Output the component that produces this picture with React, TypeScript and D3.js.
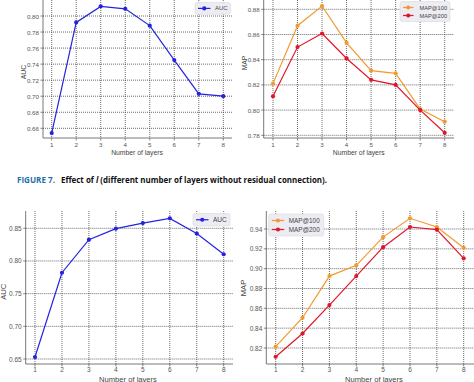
import React from "react";
import * as d3 from "d3";

const layers = [1, 2, 3, 4, 5, 6, 7, 8];

// Top row: without residual connection
const aucNoRes = [0.654, 0.792, 0.812, 0.809, 0.788, 0.745, 0.703, 0.7];
const map100NoRes = [0.821, 0.867, 0.8826, 0.8533, 0.8313, 0.8292, 0.8008, 0.7908];
const map200NoRes = [0.811, 0.85, 0.8608, 0.841, 0.824, 0.82, 0.8, 0.782];

// Bottom row: with residual connection
const aucRes = [0.653, 0.782, 0.8326, 0.8494, 0.858, 0.8652, 0.842, 0.8103];
const map100Res = [0.8213, 0.8505, 0.8925, 0.9034, 0.9318, 0.9508, 0.942, 0.921];
const map200Res = [0.8112, 0.8346, 0.8633, 0.8925, 0.9217, 0.942, 0.9393, 0.9104];

const yTicksTL = [0.66, 0.68, 0.7, 0.72, 0.74, 0.76, 0.78, 0.8];
const yTicksTR = [0.78, 0.8, 0.82, 0.84, 0.86, 0.88];
const yTicksBL = [0.65, 0.7, 0.75, 0.8, 0.85];
const yTicksBR = [0.82, 0.84, 0.86, 0.88, 0.9, 0.92, 0.94];

const BLUE = "#2323e0";
const ORANGE = "#f29a2e";
const RED = "#e0162b";

type Series = { name: string; values: number[]; color: string };

type PanelProps = {
  box: { left: number; right: number; top: number; bottom: number };
  xPix: [number, number];
  yRef: [number, number, number, number]; // v1, px1, v2, px2
  yTicks: number[];
  yFmt: (v: number) => string;
  series: Series[];
  yLabel: string;
  yLabelX: number;
  yLabelY: number;
  xLabelX: number;
  xLabelY: number;
  tickLabelY: number;
  tickFont: number;
  labelFont: number;
  legend: { x: number; y: number; w: number; rowH: number; font: number; textDx: number; lineW: number };
};

function Panel(p: PanelProps) {
  const x = d3.scaleLinear().domain([1, 8]).range(p.xPix);
  const y = d3
    .scaleLinear()
    .domain([p.yRef[0], p.yRef[2]])
    .range([p.yRef[1], p.yRef[3]]);
  const line = d3
    .line<number>()
    .x((_, i) => x(layers[i]))
    .y((d) => y(d));
  const { left, right, top, bottom } = p.box;
  const grid = "#444";
  const legH = p.series.length * p.legend.rowH + 4;
  return (
    <g>
      {layers.map((l) => (
        <line
          key={"vx" + l}
          x1={x(l)}
          x2={x(l)}
          y1={top}
          y2={bottom}
          stroke={grid}
          strokeWidth={0.8}
          strokeDasharray="1,1"
        />
      ))}
      {p.yTicks.map((t) => (
        <line
          key={"hy" + t}
          x1={left}
          x2={right}
          y1={y(t)}
          y2={y(t)}
          stroke={grid}
          strokeWidth={0.8}
          strokeDasharray="1,1"
        />
      ))}
      <line x1={left} x2={left} y1={top} y2={bottom} stroke="#555" strokeWidth={0.8} />
      <line x1={left} x2={right} y1={bottom} y2={bottom} stroke="#555" strokeWidth={0.8} />
      {layers.map((l) => (
        <g key={"xt" + l}>
          <line x1={x(l)} x2={x(l)} y1={bottom} y2={bottom + 2.5} stroke="#555" strokeWidth={0.7} />
          <text
            x={x(l)}
            y={p.tickLabelY}
            textAnchor="middle"
            dominantBaseline="central"
            fontSize={p.tickFont}
            fill="#555"
          >
            {l}
          </text>
        </g>
      ))}
      {p.yTicks.map((t) => (
        <g key={"yt" + t}>
          <line x1={left - 2.5} x2={left} y1={y(t)} y2={y(t)} stroke="#555" strokeWidth={0.7} />
          <text
            x={left - 4}
            y={y(t)}
            textAnchor="end"
            dominantBaseline="central"
            fontSize={p.tickFont}
            fill="#555"
          >
            {p.yFmt(t)}
          </text>
        </g>
      ))}
      <text
        x={p.xLabelX}
        y={p.xLabelY}
        textAnchor="middle"
        dominantBaseline="central"
        fontSize={p.labelFont}
        fill="#444"
      >
        Number of layers
      </text>
      <text
        transform={`translate(${p.yLabelX},${p.yLabelY}) rotate(-90)`}
        textAnchor="middle"
        dominantBaseline="central"
        fontSize={p.labelFont}
        fill="#444"
      >
        {p.yLabel}
      </text>
      {p.series.map((s) => (
        <g key={s.name}>
          <path d={line(s.values) || ""} fill="none" stroke={s.color} strokeWidth={1.2} />
          {s.values.map((v, i) => (
            <circle key={i} cx={x(layers[i])} cy={y(v)} r={2.1} fill={s.color} />
          ))}
        </g>
      ))}
      <rect
        x={p.legend.x}
        y={p.legend.y}
        width={p.legend.w}
        height={legH}
        rx={2}
        fill="#ececf2"
        stroke="#d8d8de"
        strokeWidth={0.6}
      />
      {p.series.map((s, i) => {
        const cy = p.legend.y + 2 + p.legend.rowH * (i + 0.5);
        const lx = p.legend.x + 3;
        return (
          <g key={"lg" + s.name}>
            <line x1={lx} x2={lx + p.legend.lineW} y1={cy} y2={cy} stroke={s.color} strokeWidth={1.2} />
            <circle cx={lx + p.legend.lineW / 2} cy={cy} r={2.1} fill={s.color} />
            <text
              x={lx + p.legend.textDx}
              y={cy}
              dominantBaseline="central"
              fontSize={p.legend.font}
              fill="#444"
            >
              {s.name}
            </text>
          </g>
        );
      })}
    </g>
  );
}

const f2 = (v: number) => v.toFixed(2);

export default function App() {
  return (
    <div style={{ position: "absolute", left: 0, top: 0 }}>
      <svg
        width={474}
        height={382}
        style={{ display: "block", background: "#fff", fontFamily: "'Liberation Sans', Arial, sans-serif" }}
      >
        <Panel
          box={{ left: 43, right: 232, top: -2, bottom: 138 }}
          xPix={[51.7, 223.3]}
          yRef={[0.8, 16, 0.66, 128.3]}
          yTicks={yTicksTL}
          yFmt={f2}
          series={[{ name: "AUC", values: aucNoRes, color: BLUE }]}
          yLabel="AUC"
          yLabelX={23}
          yLabelY={72}
          xLabelX={137}
          xLabelY={152.7}
          tickLabelY={144.5}
          tickFont={6.2}
          labelFont={6.8}
          legend={{ x: 195, y: 2.5, w: 35.5, rowH: 7.8, font: 6, textDx: 17, lineW: 12.5 }}
        />
        <Panel
          box={{ left: 263.7, right: 454, top: -2, bottom: 138 }}
          xPix={[273, 444.7]}
          yRef={[0.88, 9.3, 0.78, 135.3]}
          yTicks={yTicksTR}
          yFmt={f2}
          series={[
            { name: "MAP@100", values: map100NoRes, color: ORANGE },
            { name: "MAP@200", values: map200NoRes, color: RED },
          ]}
          yLabel="MAP"
          yLabelX={244.3}
          yLabelY={63}
          xLabelX={358.7}
          xLabelY={152.7}
          tickLabelY={144.3}
          tickFont={6.2}
          labelFont={6.8}
          legend={{ x: 400, y: 1.5, w: 50, rowH: 8, font: 5.7, textDx: 16.5, lineW: 10.5 }}
        />
        <text x={17} y={179} dominantBaseline="central" fontFamily="'Open Sans', sans-serif" fontWeight="bold" fontSize={8.2}>
          <tspan fill="#1f6fa8" textLength={38} lengthAdjust="spacingAndGlyphs">FIGURE 7.</tspan>
        </text>
        <text
          x={61}
          y={179}
          dominantBaseline="central"
          fontFamily="'Open Sans', sans-serif"
          fontWeight="bold"
          fontSize={8.2}
          fill="#111"
          textLength={266}
          lengthAdjust="spacingAndGlyphs"
        >
          Effect of <tspan fontStyle="italic">l</tspan> (different number of layers without residual connection).
        </text>
        <Panel
          box={{ left: 25.7, right: 233, top: 211, bottom: 364 }}
          xPix={[35, 223.7]}
          yRef={[0.85, 228.3, 0.65, 359]}
          yTicks={yTicksBL}
          yFmt={f2}
          series={[{ name: "AUC", values: aucRes, color: BLUE }]}
          yLabel="AUC"
          yLabelX={3}
          yLabelY={291.7}
          xLabelX={128}
          xLabelY={379}
          tickLabelY={369}
          tickFont={6.5}
          labelFont={7.6}
          legend={{ x: 193, y: 213.5, w: 37, rowH: 8.5, font: 6.5, textDx: 17, lineW: 12.5 }}
        />
        <Panel
          box={{ left: 266.3, right: 474, top: 211, bottom: 364 }}
          xPix={[275.7, 463.7]}
          yRef={[0.94, 229, 0.82, 348]}
          yTicks={yTicksBR}
          yFmt={f2}
          series={[
            { name: "MAP@100", values: map100Res, color: ORANGE },
            { name: "MAP@200", values: map200Res, color: RED },
          ]}
          yLabel="MAP"
          yLabelX={243.7}
          yLabelY={288}
          xLabelX={374}
          xLabelY={379}
          tickLabelY={369}
          tickFont={6.5}
          labelFont={7.6}
          legend={{ x: 268.7, y: 214, w: 55, rowH: 9, font: 6.4, textDx: 17, lineW: 12.5 }}
        />
      </svg>
    </div>
  );
}
